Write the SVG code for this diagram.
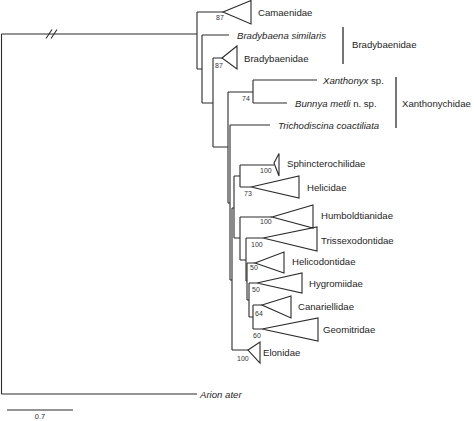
<svg xmlns="http://www.w3.org/2000/svg" width="474" height="421" viewBox="0 0 474 421">
<style>
.ln{fill:none;stroke:#2b2b2b;stroke-width:1.1}
.tri{fill:none;stroke:#2b2b2b;stroke-width:1.1;stroke-linejoin:miter}
.br{stroke:#2b2b2b;stroke-width:1.3}
text{font-family:"Liberation Sans",Arial,sans-serif;fill:#1e1e1e}
.t{font-size:9.6px}
.i{font-style:italic}
.s{font-size:7px;fill:#333}
.sc{font-size:7.5px;fill:#333}
</style>
<rect width="474" height="421" fill="#fff"/>
<g id="connectors" class="ln">
<path d="M1.5 34V394M1.5 34H197M1.5 394H197"/>
<path d="M46 38.5L52 29.5M51 38.5L57 29.5"/>
<path d="M197 12V69M197 12H223M197 69H202"/>
<path d="M202 35V103M202 35H229M202 103H213"/>
<path d="M213 58V147M213 58H222M213 147H228"/>
<path d="M228 92V203M228 92H253M228 203H230"/>
<path d="M253 80V103M253 80H317M253 103H287"/>
<path d="M230 125V280M230 125H270M230 280H232"/>
<path d="M232 208V350M232 350H248M232 208H234"/>
<path d="M234 176V238M234 176H240M234 238H240"/>
<path d="M240 165V187M240 165H274M240 187H251"/>
<path d="M240 217V260M240 217H272M240 260H246"/>
<path d="M246 238V281M246 238H263M246 281H247"/>
<path d="M247 263V300M247 263H255M247 300H249"/>
<path d="M249 283V317M249 283H257M249 317H253"/>
<path d="M253 305V329M253 305H262M253 329H262"/>
<path d="M7 410H73"/>
</g>
<g id="Camaenidae"><path class="tri" d="M223 12L251 0.5V24Z"/><text class="t" x="258" y="16">Camaenidae</text><text class="s" x="216" y="20">87</text></g>
<g id="Bradybaena_similaris"><text class="t i" x="237" y="39">Bradybaena similaris</text></g>
<g id="Bradybaenidae_clade"><path class="tri" d="M222 58L237 46V69Z"/><text class="t" x="244" y="62">Bradybaenidae</text><text class="s" x="215" y="68">87</text></g>
<g id="Bradybaenidae_bracket"><path class="br" d="M343 27V64"/><text class="t" x="352" y="48">Bradybaenidae</text></g>
<g id="Xanthonyx"><text class="t" x="323" y="84"><tspan class="i">Xanthonyx</tspan> sp.</text><text class="s" x="242" y="101">74</text></g>
<g id="Bunnya"><text class="t" x="295" y="107"><tspan class="i">Bunnya metli</tspan> n. sp.</text></g>
<g id="Xanthonychidae_bracket"><path class="br" d="M396 77V128"/><text class="t" x="402" y="107">Xanthonychidae</text></g>
<g id="Trichodiscina"><text class="t i" x="278" y="129">Trichodiscina coactiliata</text></g>
<g id="Sphincterochilidae"><path class="tri" d="M274 163L279 153.5V176Z"/><text class="t" x="287" y="167">Sphincterochilidae</text><text class="s" x="260" y="173">100</text></g>
<g id="Helicidae"><path class="tri" d="M251 187L299 176V198Z"/><text class="t" x="307" y="191">Helicidae</text><text class="s" x="244" y="196">73</text></g>
<g id="Humboldtianidae"><path class="tri" d="M272 217L313 205V228Z"/><text class="t" x="321" y="219">Humboldtianidae</text><text class="s" x="260" y="224">100</text></g>
<g id="Trissexodontidae"><path class="tri" d="M263 238L317 227V251Z"/><text class="t" x="321" y="244">Trissexodontidae</text><text class="s" x="251" y="247">100</text></g>
<g id="Helicodontidae"><path class="tri" d="M255 263L284 252V273Z"/><text class="t" x="292" y="265">Helicodontidae</text><text class="s" x="250" y="270">50</text></g>
<g id="Hygromiidae"><path class="tri" d="M257 283L302 273V293Z"/><text class="t" x="309" y="287">Hygromiidae</text><text class="s" x="252" y="292">50</text></g>
<g id="Canariellidae"><path class="tri" d="M262 305L291 296V318Z"/><text class="t" x="298" y="310">Canariellidae</text><text class="s" x="255" y="316">64</text></g>
<g id="Geomitridae"><path class="tri" d="M262 329L318 318V341Z"/><text class="t" x="323" y="333">Geomitridae</text><text class="s" x="253" y="338">60</text></g>
<g id="Elonidae"><path class="tri" d="M248 350L260 342V363Z"/><text class="t" x="263" y="356">Elonidae</text><text class="s" x="237" y="361">100</text></g>
<g id="Arion_ater"><text class="t i" x="200" y="398">Arion ater</text></g>
<g id="scale"><text class="sc" x="40" y="419" text-anchor="middle">0.7</text></g>
</svg>
